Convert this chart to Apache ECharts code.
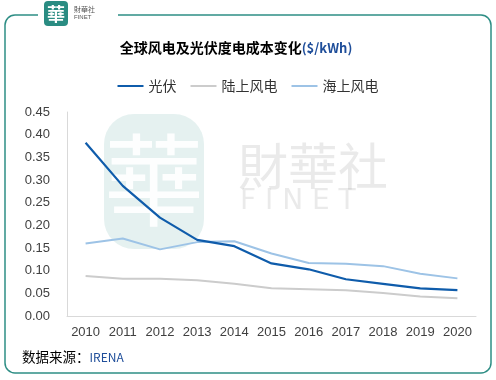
<!DOCTYPE html>
<html><head><meta charset="utf-8">
<script src="https://cdn.jsdelivr.net/npm/echarts@6/dist/echarts.min.js"></script>
<style>html,body{margin:0;padding:0;background:#fff}#c{width:496px;height:380px}</style>
</head><body><div id="c"></div>
<script>
const years = ['2010','2011','2012','2013','2014','2015','2016','2017','2018','2019','2020'];
const solar = [0.382,0.287,0.217,0.168,0.154,0.116,0.103,0.081,0.071,0.061,0.057];
const onshore = [0.088,0.082,0.082,0.079,0.071,0.061,0.059,0.057,0.051,0.043,0.039];
const offshore = [0.160,0.171,0.147,0.163,0.165,0.138,0.117,0.115,0.110,0.093,0.083];
const yTicks = ['0.00','0.05','0.10','0.15','0.20','0.25','0.30','0.35','0.40','0.45'];
const names = ['光伏','陆上风电','海上风电'];

const chart = echarts.init(document.getElementById('c'), null, {renderer:'canvas'});
const font = '"Noto Sans CJK SC", "Noto Sans", sans-serif';
chart.setOption({
  animation:false,
  backgroundColor:'#fff',
  graphic:[
    {type:'rect', z:-10, shape:{x:5,y:15,width:486,height:358,r:10}, style:{fill:'none',stroke:'#2E8E85',lineWidth:1.5}},
    {type:'rect', z:-9, shape:{x:38,y:8,width:80,height:14}, style:{fill:'#fff'}},
    {type:'rect', z:-8, shape:{x:44,y:1,width:24,height:25,r:4}, style:{fill:'#2A8C82'}},
    {type:'text', z:-7, style:{x:56,y:14,text:'華',fill:'#fff',font:'bold 18px "Noto Sans CJK TC"',align:'center',verticalAlign:'middle'}},
    {type:'text', z:-7, style:{x:74,y:9,text:'財華社',fill:'#555',font:'7px "Noto Sans CJK TC"',verticalAlign:'middle'}},
    {type:'text', z:-7, style:{x:74,y:17,text:'FINET',fill:'#555',font:'6px sans-serif',verticalAlign:'middle'}},
    {type:'rect', z:-6, shape:{x:104,y:114,width:100,height:135,r:30}, style:{fill:'rgba(42,140,130,0.12)'}},
    {type:'text', z:-5, style:{x:154,y:180,text:'華',fill:'rgba(255,255,255,0.9)',font:'100px "Noto Sans CJK TC"',align:'center',verticalAlign:'middle'}},
    {type:'text', z:-5, style:{x:238,y:166,text:'財華社',fill:'rgba(150,150,150,0.2)',font:'50px "Noto Sans CJK TC"',verticalAlign:'middle'}},
    {type:'text', z:-5, style:{x:240,y:202,text:'F I N E T',fill:'rgba(150,150,150,0.2)',font:'28px "DejaVu Sans"',verticalAlign:'middle'}},
    {type:'text', style:{x:236,y:48,text:'{a|全球风电及光伏度电成本变化}{b|($/kWh)}',align:'center',verticalAlign:'middle',
      rich:{a:{font:'bold 14px '+font,fill:'#000'},b:{font:'bold 13px '+font,fill:'#1F4E9A'}}}},
    {type:'text', style:{x:22,y:357,text:'{a|数据来源：}{b|IRENA}',verticalAlign:'middle',
      rich:{a:{font:'13.5px '+font,fill:'#000'},b:{font:'12px '+font,fill:'#1F4E9A'}}}}
  ],
  legend:{top:74,left:'center',itemWidth:26,itemHeight:2,itemGap:14,icon:'rect',
    textStyle:{fontFamily:font,fontSize:14,color:'#333'},data:names},
  grid:{left:67,right:20,top:112,bottom:64},
  xAxis:{type:'category',data:years,boundaryGap:true,
    axisLine:{lineStyle:{color:'#D9D9D9'}},axisTick:{show:false},
    axisLabel:{interval:0,color:'#404040',fontSize:13,fontFamily:'"Liberation Sans", Arial, sans-serif',margin:10}},
  yAxis:{type:'value',min:0,max:0.45,interval:0.05,
    axisLine:{show:true,lineStyle:{color:'#D9D9D9'}},axisTick:{show:false},splitLine:{show:false},
    axisLabel:{color:'#404040',fontSize:13,fontFamily:'"Liberation Sans", Arial, sans-serif',margin:17,
      formatter:(v)=>yTicks[Math.round(v/0.05)]}},
  series:[
    {name:names[0],type:'line',data:solar,symbol:'none',lineStyle:{color:'#0F5CAB',width:2.2},itemStyle:{color:'#0F5CAB'},z:5},
    {name:names[1],type:'line',data:onshore,symbol:'none',lineStyle:{color:'#CCCCCC',width:2},itemStyle:{color:'#CCCCCC'},z:3},
    {name:names[2],type:'line',data:offshore,symbol:'none',lineStyle:{color:'#9DC3E6',width:2},itemStyle:{color:'#9DC3E6'},z:4}
  ]
});
</script></body></html>
